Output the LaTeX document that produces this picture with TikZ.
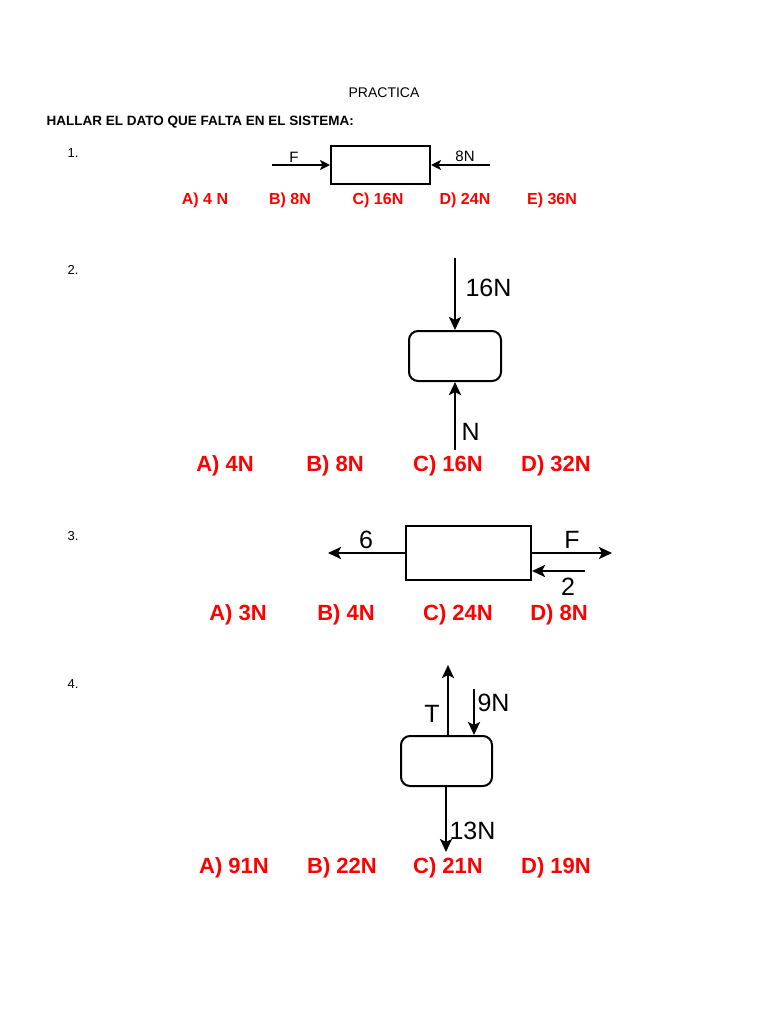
\documentclass[tikz,border=0pt]{standalone}
\usepackage{fontspec}
\setmainfont{Liberation Sans}
\usetikzlibrary{arrows.meta}
\begin{document}
\begin{tikzpicture}[x=1pt,y=-1pt,
 f/.style={line width=2.6pt,-{Stealth[length=13pt,width=12pt,inset=3pt]}},
 fs/.style={line width=2pt,-{Stealth[length=10pt,width=10pt,inset=2.5pt]}},
 bx/.style={draw,line width=2pt,inner sep=0},
 ans/.style={text=red,font=\bfseries\fontsize{22}{24}\selectfont,anchor=center},
 ans1/.style={text=red,font=\bfseries\fontsize{16}{18}\selectfont,anchor=center},
 lab/.style={font=\fontsize{25}{27}\selectfont},
 num/.style={font=\fontsize{13}{15}\selectfont,anchor=west}]
\useasboundingbox (0,0) rectangle (768,1024);
\node[font=\fontsize{14}{16}\selectfont] (title) at (384,93) {PRACTICA};
\node[anchor=west,font=\bfseries\fontsize{13.5}{15}\selectfont] (head) at (43,122) {HALLAR EL DATO QUE FALTA EN EL SISTEMA:};
% 1
\node[num] (n1) at (64,153) {1.};
\node[bx,minimum width=99pt,minimum height=38pt] (b1) at (380.5,165) {};
\coordinate (f1s) at (272,165); \coordinate (e1s) at (490,165);
\draw[fs] (f1s) -- (b1.west);
\draw[fs] (e1s) -- (b1.east);
\node[font=\fontsize{15}{17}\selectfont] (lF1) at (294,157) {F};
\node[font=\fontsize{15}{17}\selectfont] (l81) at (465,156) {8N};
\foreach \x/\t in {205/A) 4 N,290/B) 8N,378/C) 16N,465/D) 24N,552/E) 36N}
  \node[ans1] at (\x,200) {\t};
% 2
\node[num] (n2) at (64,270) {2.};
\node[bx,rounded corners=9pt,minimum width=92pt,minimum height=50pt] (b2) at (455,356) {};
\coordinate (t2) at (455,258); \coordinate (d2) at (455,450);
\draw[f] (t2) -- (b2.north);
\draw[f] (d2) -- (b2.south);
\node[lab,anchor=west] (l16) at (462,288) {16N};
\node[lab,anchor=west] (lN) at (458,432) {N};
\foreach \x/\t in {225/A) 4N,335/B) 8N,448/C) 16N,556/D) 32N}
  \node[ans] at (\x,466) {\t};
% 3
\node[num] (n3) at (64,536) {3.};
\node[bx,minimum width=125pt,minimum height=54pt] (b3) at (468.5,553) {};
\coordinate (l3) at (328,553); \coordinate (r3) at (612,553); \coordinate (s3) at (585,571);
\draw[f] (b3.west) -- (l3);
\draw[f] (b3.east) -- (r3);
\draw[f] (s3) -- (b3.east |- s3);
\node[lab] (l6) at (366,540) {6};
\node[lab] (lF3) at (572,540) {F};
\node[lab] (l2) at (568,587) {2};
\foreach \x/\t in {238/A) 3N,346/B) 4N,458/C) 24N,559/D) 8N}
  \node[ans] at (\x,615) {\t};
% 4
\node[num] (n4) at (64,684) {4.};
\node[bx,rounded corners=9pt,minimum width=91pt,minimum height=50pt] (b4) at (446.5,761) {};
\coordinate (t4) at (448,665); \coordinate (n9) at (474,689); \coordinate (d4) at (446,852);
\draw[f] (b4.north -| t4) -- (t4);
\draw[f] (n9) -- (b4.north -| n9);
\draw[f] (b4.south -| d4) -- (d4);
\node[lab] (lT) at (432,714) {T};
\node[lab,anchor=west] (l9) at (474,703) {9N};
\node[lab,anchor=west] (l13) at (446,831) {13N};
\foreach \x/\t in {234/A) 91N,342/B) 22N,448/C) 21N,556/D) 19N}
  \node[ans] at (\x,868) {\t};
\end{tikzpicture}
\end{document}
